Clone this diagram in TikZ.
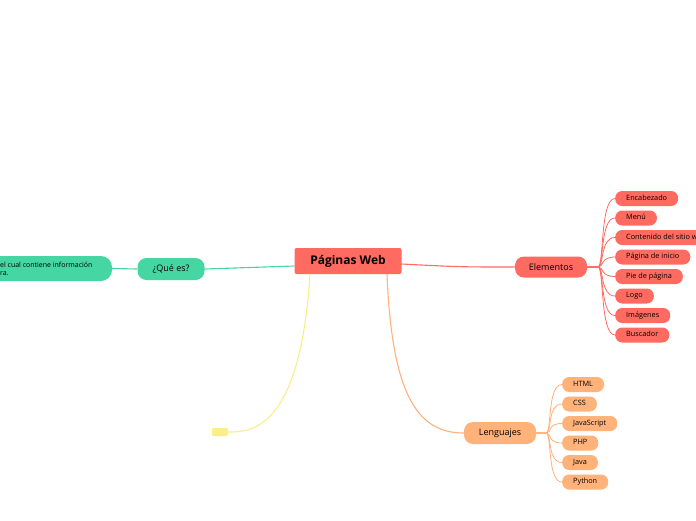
\documentclass[tikz,border=0pt]{standalone}
\usepackage{fontspec}
\setmainfont{Open Sans}
\definecolor{cred}{HTML}{FF6B61}
\definecolor{cgreen}{HTML}{45D6A4}
\definecolor{corange}{HTML}{FFB27A}
\definecolor{cyellow}{HTML}{F9EE8A}
\begin{document}
\begin{tikzpicture}[x=1pt,y=-1pt,
  pill/.style={rounded corners=7pt,inner sep=0pt,minimum height=15pt,font=\fontsize{7.3}{8}\selectfont,anchor=west,text height=5pt,text depth=1.5pt,inner xsep=11pt},
  mid/.style={rounded corners=9pt,inner sep=0pt,minimum height=22pt,font=\fontsize{9}{10}\selectfont},
  lnk/.style={line width=1.1pt}]
\useasboundingbox (0,0) rectangle (696,520);
\fill[white] (0,0) rectangle (696,520);
\node[fill=cred,rounded corners=2pt,minimum width=107pt,minimum height=26pt,font=\fontsize{12}{14}\selectfont\bfseries] (main) at (348,261) {Páginas Web};
\node[mid,fill=cgreen,minimum width=67pt] (que) at (171,269) {¿Qué es?};
\node[mid,fill=cgreen,minimum width=150pt,minimum height=25pt,rounded corners=11pt] (def) at (37,268.5) {};
\node[font=\fontsize{7}{8}\selectfont,align=left,anchor=west,inner sep=0pt] (deft) at (0,268.5) {el cual contiene información\\ra.};
\node[mid,fill=cred,minimum width=72pt,minimum height=21pt] (ele) at (551,267) {Elementos};
\node[mid,fill=corange,minimum width=72pt] (len) at (500,433) {Lenguajes};
\node[fill=cyellow,rounded corners=2pt,minimum width=16pt,minimum height=8pt,inner sep=0pt] (yel) at (220,432) {};
\draw[lnk,cgreen] (main.west) ++(0,5) coordinate (m1) .. controls (250,268) .. (que.east);
\draw[lnk,cgreen] (que.west) -- (def.east);
\draw[lnk,cred] (main.east) ++(0,3) coordinate (m2) .. controls (460,267) .. (ele.west);
\draw[lnk,cyellow] (310,274) coordinate (m3) .. controls (300,432) and (250,432) .. (yel.east);
\draw[lnk,corange] (387,274) coordinate (m4) .. controls (392,400) and (420,433) .. (len.west);
\foreach \t/\y [count=\i] in {Encabezado/198.5,Menú/218,Contenido del sitio web/237.5,Página de inicio/257,Pie de página/276.5,Logo/296,Imágenes/315.5,Buscador/335}{
  \node[pill,fill=cred] (e\i) at (615,\y) {\t};
  \draw[lnk,cred,line width=0.8pt] (ele.east) -- (598,267) .. controls (604,267) and (600,\y) .. (e\i.west);
}
\foreach \t/\y [count=\i] in {HTML/384.5,CSS/404,JavaScript/423.5,PHP/443,Java/462.5,Python/482}{
  \node[pill,fill=corange] (l\i) at (562,\y) {\t};
  \draw[lnk,corange,line width=0.8pt] (len.east) -- (546,433) .. controls (552,433) and (547,\y) .. (l\i.west);
}
\end{tikzpicture}
\end{document}
